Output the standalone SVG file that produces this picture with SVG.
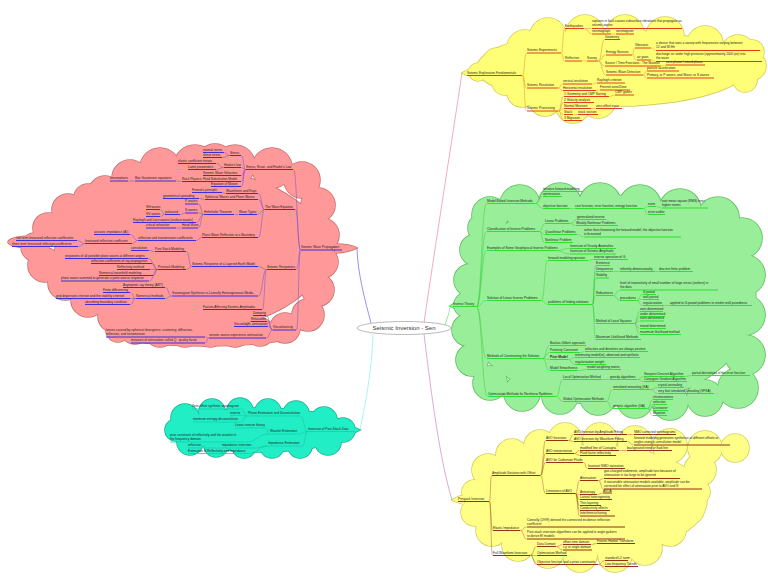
<svg xmlns="http://www.w3.org/2000/svg" xmlns:xlink="http://www.w3.org/1999/xlink" width="768" height="586" viewBox="0 0 768 586">
<style>
.t{font-family:"Liberation Sans",Arial,sans-serif;font-size:3.2px;fill:#222}
.b{font-weight:bold}
.ly{stroke:#e3260e;stroke-width:0.9}
.lg{stroke:#22dd22;stroke-width:0.9}
.lb{stroke:#8b1a00;stroke-width:0.9}
.lp{stroke:#2a1ee8;stroke-width:0.9}
.lc{stroke:#12cfae;stroke-width:0.8}
.cy,.cg,.cb,.cp,.cc,.m{fill:none;stroke-width:0.5}
.cy{stroke:#d98a3a}.cg{stroke:#3ccc3c}.cb{stroke:#a5602a}.cp{stroke:#6a4ed0}.cc{stroke:#19b89a}
.m{stroke-width:0.7}
.ctr{font-family:"Liberation Sans",Arial,sans-serif;font-size:6px;fill:#333}
</style>
<defs>
<g id="sy">
<ellipse cx="612" cy="68" rx="135" ry="38"/>
<circle cx="478" cy="72" r="9"/><circle cx="497" cy="62" r="14"/><circle cx="505" cy="82" r="13"/><circle cx="525" cy="48" r="18"/><circle cx="548" cy="36" r="18"/><circle cx="585" cy="34" r="19"/><circle cx="625" cy="34" r="19"/><circle cx="665" cy="36" r="19"/><circle cx="705" cy="44" r="18"/><circle cx="738" cy="52" r="17"/><circle cx="752" cy="52" r="12"/><circle cx="752" cy="66" r="14"/><circle cx="745" cy="80" r="12"/><circle cx="710" cy="78" r="14"/><circle cx="670" cy="84" r="15"/><circle cx="632" cy="90" r="16"/><circle cx="598" cy="100" r="18"/><circle cx="573" cy="106" r="17"/><circle cx="545" cy="100" r="16"/><circle cx="522" cy="92" r="15"/>
<path d="M462 73Q468 69 474 68L476 77Q468 76 462 73Z"/>
</g>
<g id="sg">
<ellipse cx="608" cy="300" rx="148" ry="105"/>
<circle cx="490" cy="215" r="18"/><circle cx="520" cy="205" r="20"/><circle cx="560" cy="204" r="21"/><circle cx="600" cy="204" r="21"/><circle cx="640" cy="206" r="21"/><circle cx="680" cy="210" r="21"/><circle cx="718" cy="218" r="21"/><circle cx="742" cy="238" r="20"/><circle cx="745" cy="275" r="20"/><circle cx="745" cy="315" r="20"/><circle cx="745" cy="355" r="20"/><circle cx="738" cy="388" r="20"/><circle cx="705" cy="398" r="18"/><circle cx="670" cy="402" r="18"/><circle cx="635" cy="400" r="18"/><circle cx="598" cy="397" r="18"/><circle cx="560" cy="396" r="18"/><circle cx="522" cy="393" r="18"/><circle cx="490" cy="383" r="17"/><circle cx="472" cy="360" r="16"/><circle cx="468" cy="330" r="16"/><circle cx="466" cy="305" r="12"/><circle cx="470" cy="280" r="16"/><circle cx="476" cy="250" r="16"/><circle cx="482" cy="228" r="14"/>
<path d="M450 306Q455 302 460 301L460 309Q455 309 450 306Z"/>
</g>
<g id="sb">
<ellipse cx="592" cy="500" rx="115" ry="55"/>
<circle cx="540" cy="446" r="16"/><circle cx="565" cy="440" r="17"/><circle cx="600" cy="440" r="17"/><circle cx="635" cy="443" r="17"/><circle cx="670" cy="446" r="17"/><circle cx="705" cy="448" r="17"/><circle cx="735" cy="448" r="14"/><circle cx="700" cy="470" r="16"/><circle cx="698" cy="492" r="12"/><circle cx="690" cy="510" r="14"/><circle cx="670" cy="530" r="16"/><circle cx="645" cy="548" r="17"/><circle cx="615" cy="555" r="17"/><circle cx="580" cy="555" r="17"/><circle cx="548" cy="552" r="16"/><circle cx="518" cy="545" r="16"/><circle cx="492" cy="530" r="16"/><circle cx="475" cy="512" r="14"/><circle cx="474" cy="492" r="12"/><circle cx="488" cy="470" r="16"/><circle cx="512" cy="455" r="16"/>
<path d="M452 500Q458 496 464 495L464 504Q458 503 452 500Z"/>
</g>
<g id="sp">
<ellipse cx="190" cy="250" rx="135" ry="80"/>
<circle cx="105" cy="192" r="16"/><circle cx="130" cy="178" r="18"/><circle cx="160" cy="168" r="20"/><circle cx="195" cy="166" r="21"/><circle cx="215" cy="163" r="19"/><circle cx="235" cy="165" r="20"/><circle cx="272" cy="168" r="20"/><circle cx="302" cy="180" r="18"/><circle cx="318" cy="205" r="17"/><circle cx="322" cy="235" r="17"/><circle cx="322" cy="262" r="16"/><circle cx="318" cy="290" r="16"/><circle cx="308" cy="315" r="16"/><circle cx="285" cy="328" r="15"/><circle cx="260" cy="332" r="14"/><circle cx="235" cy="333" r="14"/><circle cx="210" cy="333" r="14"/><circle cx="185" cy="333" r="14"/><circle cx="160" cy="333" r="14"/><circle cx="135" cy="330" r="14"/><circle cx="118" cy="330" r="12"/><circle cx="115" cy="316" r="17"/><circle cx="88" cy="300" r="17"/><circle cx="65" cy="283" r="17"/><circle cx="45" cy="265" r="17"/><circle cx="35" cy="247" r="14"/><circle cx="48" cy="228" r="15"/><circle cx="68" cy="210" r="16"/><circle cx="88" cy="198" r="14"/>
<ellipse cx="205" cy="336" rx="85" ry="10"/>
<ellipse cx="32" cy="242" rx="24" ry="6"/>
<path d="M357 248Q350 244 335 244L335 253Q350 252 357 248Z"/>
</g>
<g id="sc">
<ellipse cx="262" cy="430" rx="88" ry="22"/>
<circle cx="185" cy="418" r="14"/><circle cx="212" cy="412" r="13"/><circle cx="240" cy="411" r="13"/><circle cx="268" cy="412" r="13"/><circle cx="296" cy="414" r="13"/><circle cx="324" cy="420" r="13"/><circle cx="343" cy="430" r="12"/><circle cx="328" cy="442" r="13"/><circle cx="300" cy="446" r="12"/><circle cx="272" cy="446" r="12"/><circle cx="244" cy="446" r="12"/><circle cx="216" cy="445" r="12"/><circle cx="190" cy="442" r="13"/><circle cx="176" cy="430" r="11"/>
<path d="M360 430Q352 426 346 426L346 435Q352 434 360 430Z"/>
</g>
</defs>
<rect width="768" height="586" fill="#fff"/>
<g id="clouds">
<use xlink:href="#sy" href="#sy" fill="#d2cf5a" stroke="#d2cf5a" stroke-width="1.6"/>
<use xlink:href="#sy" href="#sy" fill="#ffff77"/>
<use xlink:href="#sg" href="#sg" fill="#5fbf5f" stroke="#5fbf5f" stroke-width="1.6"/>
<use xlink:href="#sg" href="#sg" fill="#99ee99"/>
<use xlink:href="#sb" href="#sb" fill="#d2cf5a" stroke="#d2cf5a" stroke-width="1.6"/>
<use xlink:href="#sb" href="#sb" fill="#ffff88"/>
<use xlink:href="#sp" href="#sp" fill="#c87070" stroke="#c87070" stroke-width="1.6"/>
<use xlink:href="#sp" href="#sp" fill="#ff9999"/>
<use xlink:href="#sc" href="#sc" fill="#17b090" stroke="#17b090" stroke-width="1.6"/>
<use xlink:href="#sc" href="#sc" fill="#22eec6"/>
</g>
<g id="connectors">
<path class="m" stroke="#ee8899" d="M424 323C436 240 452 140 462 73"/>
<path class="m" stroke="#6666e0" d="M371 323C365 300 358 275 357 249"/>
<path class="m" stroke="#77dd77" d="M445 325C448 316 450 310 450 306"/>
<path class="m" stroke="#88eeee" d="M373 334C372 370 366 400 360 430"/>
<path class="m" stroke="#cc88bb" d="M424 334C432 400 440 460 452 500"/>
<g class="cy">
<path d="M522.5 75.5C524.5 75.5 524.5 53 526.5 53"/><path d="M522.5 75.5C524.5 75.5 524.5 88 526.5 88"/><path d="M522.5 75.5C524.5 75.5 524.5 111 526.5 111"/>
<path d="M561.5 53C563 53 563 28.5 564.5 28.5"/><path d="M561.5 53C563 53 563 61 564.5 61"/>
<path d="M584.5 28.5H591.5"/><path d="M584.5 28.5C588 28.5 588 34 591.5 34"/><path d="M611.5 34H615.5"/>
<path d="M582.5 61H586.5"/>
<path d="M598.5 61C601.5 61 601.5 39.5 604.5 39.5"/><path d="M598.5 61C602 61 602 55 605.5 55"/><path d="M598.5 61C601.5 61 601.5 66 604.5 66"/><path d="M598.5 61C602 61 602 75 605.5 75"/>
<path d="M632.5 55C633.5 55 633.5 48 634.5 48"/><path d="M632.5 55C634.5 55 634.5 60 636.5 60"/>
<path d="M651.5 48C653.5 48 653.5 50.5 655.5 50.5"/><path d="M651.5 60C653.5 60 653.5 61.5 655.5 61.5"/>
<path d="M661.5 66C663.5 66 663.5 65 665.5 65"/>
<path d="M643.5 75C645 75 645 71 646.5 71"/><path d="M643.5 75C645 75 645 78 646.5 78"/>
<path d="M558.5 88C560.5 88 560.5 84 562.5 84"/><path d="M558.5 88C560.5 88 560.5 90.5 562.5 90.5"/>
<path d="M592.5 84C594.5 84 594.5 83 596.5 83"/><path d="M596.5 90.5C598 90.5 598 90 599.5 90"/>
<path d="M558.5 111C561 111 561 96.5 563.5 96.5"/><path d="M558.5 111C561 111 561 102.5 563.5 102.5"/><path d="M558.5 111C561 111 561 108.5 563.5 108.5"/><path d="M558.5 111C561 111 561 114.5 563.5 114.5"/><path d="M558.5 111C561 111 561 120.5 563.5 120.5"/>
<path d="M609.5 96.5C612 96.5 612 95 614.5 95"/><path d="M591.5 108.5H595.5"/><path d="M573.5 114.5H577.5"/>
</g>
<g class="cg">
<path d="M476.5 306.5C481.5 306.5 481.5 203.5 486.5 203.5"/><path d="M476.5 306.5C481.5 306.5 481.5 231.5 486.5 231.5"/><path d="M476.5 306.5C481.5 306.5 481.5 250.5 486.5 250.5"/><path d="M476.5 306.5C481.5 306.5 481.5 300.5 486.5 300.5"/><path d="M476.5 306.5C481.5 306.5 481.5 358.5 486.5 358.5"/><path d="M476.5 306.5C482 306.5 482 396.5 487.5 396.5"/>
<path d="M535.5 203.5C539 203.5 539 191.5 542.5 191.5"/><path d="M535.5 203.5C539 203.5 539 196.5 542.5 196.5"/><path d="M535.5 203.5C539 203.5 539 208.5 542.5 208.5"/>
<path d="M570.5 208.5H574.5"/><path d="M643.5 208.5C645.5 208.5 645.5 206.5 647.5 206.5"/><path d="M643.5 208.5C645.5 208.5 645.5 214.5 647.5 214.5"/><path d="M656.5 206.5C659 206.5 659 208 661.5 208"/>
<path d="M539.5 231.5C542 231.5 542 223.5 544.5 223.5"/><path d="M539.5 231.5C542 231.5 542 234.5 544.5 234.5"/><path d="M539.5 231.5C542 231.5 542 242.5 544.5 242.5"/>
<path d="M570.5 223.5C573.5 223.5 573.5 219.5 576.5 219.5"/><path d="M570.5 223.5C573 223.5 573 225.5 575.5 225.5"/><path d="M577.5 234.5C580.5 234.5 580.5 237 583.5 237"/>
<path d="M556.5 250.5C563 250.5 563 248.5 569.5 248.5"/><path d="M556.5 250.5C563 250.5 563 254 569.5 254"/>
<path d="M541.5 300.5C544.5 300.5 544.5 260.5 547.5 260.5"/><path d="M541.5 300.5C544.5 300.5 544.5 304.5 547.5 304.5"/>
<path d="M588.5 260.5C591 260.5 591 259.5 593.5 259.5"/>
<path d="M592.5 304.5C594 304.5 594 265.5 595.5 265.5"/><path d="M592.5 304.5C594 304.5 594 271.5 595.5 271.5"/><path d="M592.5 304.5C594 304.5 594 278 595.5 278"/><path d="M592.5 304.5C594 304.5 594 295.5 595.5 295.5"/><path d="M592.5 304.5C594 304.5 594 323.5 595.5 323.5"/><path d="M592.5 304.5C594 304.5 594 339.5 595.5 339.5"/>
<path d="M613.5 271.5H619.5"/><path d="M655.5 271.5H658.5"/>
<path d="M613.5 295.5C616.5 295.5 616.5 290 619.5 290"/><path d="M613.5 295.5C616.5 295.5 616.5 300.5 619.5 300.5"/>
<path d="M636.5 300.5C639.5 300.5 639.5 294.5 642.5 294.5"/><path d="M636.5 300.5C639.5 300.5 639.5 299.5 642.5 299.5"/><path d="M636.5 300.5C639.5 300.5 639.5 305.5 642.5 305.5"/><path d="M664.5 305.5H669.5"/>
<path d="M634.5 323.5C637 323.5 637 311.5 639.5 311.5"/><path d="M634.5 323.5C637 323.5 637 316.5 639.5 316.5"/><path d="M634.5 323.5C637 323.5 637 321 639.5 321"/><path d="M634.5 323.5C637 323.5 637 328.5 639.5 328.5"/><path d="M634.5 323.5C637 323.5 637 334.5 639.5 334.5"/>
<path d="M542.5 358.5C546 358.5 546 345.5 549.5 345.5"/><path d="M542.5 358.5C546 358.5 546 352.5 549.5 352.5"/><path d="M542.5 358.5C546 358.5 546 359.5 549.5 359.5"/><path d="M542.5 358.5C546 358.5 546 370.5 549.5 370.5"/>
<path d="M580.5 352.5C582.5 352.5 582.5 351.5 584.5 351.5"/><path d="M568.5 359.5C571.5 359.5 571.5 357.5 574.5 357.5"/><path d="M568.5 359.5C571.5 359.5 571.5 364.5 574.5 364.5"/><path d="M578.5 370.5C582.5 370.5 582.5 369.5 586.5 369.5"/>
<path d="M556.5 396.5C559.5 396.5 559.5 379.5 562.5 379.5"/><path d="M556.5 396.5C559.5 396.5 559.5 401.5 562.5 401.5"/>
<path d="M602.5 379.5H609.5"/><path d="M637.5 379.5C640.5 379.5 640.5 376.5 643.5 376.5"/><path d="M637.5 379.5C640.5 379.5 640.5 381.5 643.5 381.5"/><path d="M685.5 376.5C688.5 376.5 688.5 375.5 691.5 375.5"/>
<path d="M606.5 401.5C609.5 401.5 609.5 389.5 612.5 389.5"/><path d="M606.5 401.5C609.5 401.5 609.5 408.5 612.5 408.5"/>
<path d="M650.5 389.5C654 389.5 654 387.5 657.5 387.5"/><path d="M650.5 389.5C654 389.5 654 393.5 657.5 393.5"/>
<path d="M647.5 408.5C650 408.5 650 399.5 652.5 399.5"/><path d="M647.5 408.5C650 408.5 650 404.5 652.5 404.5"/><path d="M647.5 408.5C650 408.5 650 410.5 652.5 410.5"/><path d="M647.5 408.5C650 408.5 650 415.5 652.5 415.5"/>
</g>
<g class="cb">
<path d="M489.5 501.5C490.5 501.5 490.5 475.5 491.5 475.5"/><path d="M489.5 501.5C491 501.5 491 530.5 492.5 530.5"/><path d="M489.5 501.5C491 501.5 491 555.5 492.5 555.5"/>
<path d="M540.5 475.5C543 475.5 543 440.5 545.5 440.5"/><path d="M540.5 475.5C543 475.5 543 453.5 545.5 453.5"/><path d="M540.5 475.5C543 475.5 543 462.5 545.5 462.5"/><path d="M540.5 475.5C543 475.5 543 493.5 545.5 493.5"/>
<path d="M568.5 440.5C571 440.5 571 434.5 573.5 434.5"/><path d="M568.5 440.5C571 440.5 571 441.5 573.5 441.5"/>
<path d="M627.5 434.5H633.5"/><path d="M627.5 441.5C630.5 441.5 630.5 445 633.5 445"/>
<path d="M574.5 453.5C577 453.5 577 450.5 579.5 450.5"/><path d="M574.5 453.5C577 453.5 577 455.5 579.5 455.5"/><path d="M619.5 450.5H626.5"/>
<path d="M583.5 462.5C585.5 462.5 585.5 468.5 587.5 468.5"/>
<path d="M575.5 493.5C577.5 493.5 577.5 480.5 579.5 480.5"/><path d="M575.5 493.5C577.5 493.5 577.5 494.5 579.5 494.5"/><path d="M575.5 493.5C577.5 493.5 577.5 499.5 579.5 499.5"/><path d="M575.5 493.5C577.5 493.5 577.5 505.5 579.5 505.5"/><path d="M575.5 493.5C577.5 493.5 577.5 510.5 579.5 510.5"/><path d="M575.5 493.5C577.5 493.5 577.5 516 579.5 516"/>
<path d="M598.5 480.5C601 480.5 601 478.5 603.5 478.5"/><path d="M598.5 480.5C601 480.5 601 489 603.5 489"/><path d="M597.5 494.5C600 494.5 600 493 602.5 493"/>
<path d="M520.5 530.5C523.5 530.5 523.5 527 526.5 527"/><path d="M520.5 530.5C523.5 530.5 523.5 539 526.5 539"/>
<path d="M530.5 555.5C533.5 555.5 533.5 546.5 536.5 546.5"/><path d="M530.5 555.5C533.5 555.5 533.5 555.5 536.5 555.5"/><path d="M530.5 555.5C533.5 555.5 533.5 564.5 536.5 564.5"/>
<path d="M556.5 546.5C559.5 546.5 559.5 544.5 562.5 544.5"/><path d="M556.5 546.5C559.5 546.5 559.5 550 562.5 550"/><path d="M591.5 544.5C594 544.5 594 543.5 596.5 543.5"/>
<path d="M598.5 564.5C601.5 564.5 601.5 560.5 604.5 560.5"/><path d="M598.5 564.5C601.5 564.5 601.5 566.5 604.5 566.5"/>
</g>
<g class="cp">
<path d="M300.5 250C297 250 297 169.5 293.5 169.5"/><path d="M300.5 250C298 250 298 209.5 295.5 209.5"/><path d="M300.5 250C298.5 250 298.5 269.5 296.5 269.5"/><path d="M300.5 250C298.5 250 298.5 330 296.5 330"/>
<path d="M245.5 169.5C243.5 169.5 243.5 155.5 241.5 155.5"/><path d="M245.5 169.5C243.5 169.5 243.5 167.5 241.5 167.5"/><path d="M245.5 169.5C243.5 169.5 243.5 175.5 241.5 175.5"/><path d="M245.5 169.5C243.5 169.5 243.5 181.5 241.5 181.5"/><path d="M245.5 169.5C243.5 169.5 243.5 186.5 241.5 186.5"/>
<path d="M229.5 155.5C227 155.5 227 152.5 224.5 152.5"/><path d="M229.5 155.5C226 155.5 226 157.5 222.5 157.5"/>
<path d="M223.5 167.5C220 167.5 220 163.5 216.5 163.5"/><path d="M223.5 167.5C220 167.5 220 169.5 216.5 169.5"/>
<path d="M181.5 181.5C179 181.5 179 181 176.5 181"/><path d="M134.5 181H128.5"/>
<path d="M264.5 209.5C261.5 209.5 261.5 193.5 258.5 193.5"/><path d="M264.5 209.5C261.5 209.5 261.5 199.5 258.5 199.5"/><path d="M264.5 209.5C261 209.5 261 214.5 257.5 214.5"/><path d="M264.5 209.5C261.5 209.5 261.5 237.5 258.5 237.5"/>
<path d="M225.5 193.5C224 193.5 224 192.5 222.5 192.5"/><path d="M204.5 199.5C202 199.5 202 198.5 199.5 198.5"/><path d="M238.5 214.5H234.5"/>
<path d="M203.5 214.5C201 214.5 201 204 198.5 204"/><path d="M203.5 214.5C201 214.5 201 213 198.5 213"/><path d="M203.5 214.5C200 214.5 200 222.5 196.5 222.5"/><path d="M203.5 214.5C201 214.5 201 228 198.5 228"/>
<path d="M184.5 213C182.5 213 182.5 214.5 180.5 214.5"/><path d="M164.5 214.5C162.5 214.5 162.5 209.5 160.5 209.5"/><path d="M164.5 214.5C162.5 214.5 162.5 216.5 160.5 216.5"/><path d="M181.5 228H176.5"/>
<path d="M201.5 237.5C199 237.5 199 240.5 196.5 240.5"/>
<path d="M137.5 240.5C134 240.5 134 234.5 130.5 234.5"/><path d="M137.5 240.5C135 240.5 135 243.5 132.5 243.5"/>
<path d="M84.5 243.5C81 243.5 81 240.5 77.5 240.5"/><path d="M84.5 243.5C81.5 243.5 81.5 246.5 78.5 246.5"/>
<path d="M266.5 269.5C262.5 269.5 262.5 266.5 258.5 266.5"/><path d="M266.5 269.5C262.5 269.5 262.5 296 258.5 296"/><path d="M266.5 269.5C264.5 269.5 264.5 309.5 262.5 309.5"/>
<path d="M191.5 266.5C189 266.5 189 251.5 186.5 251.5"/><path d="M191.5 266.5C189 266.5 189 269.5 186.5 269.5"/>
<path d="M154.5 251.5C152 251.5 152 250.5 149.5 250.5"/>
<path d="M157.5 269.5C153 269.5 153 258.5 148.5 258.5"/><path d="M157.5 269.5C155 269.5 155 263.5 152.5 263.5"/><path d="M157.5 269.5H150.5"/><path d="M157.5 269.5C155.5 269.5 155.5 275.5 153.5 275.5"/><path d="M157.5 269.5C153.5 269.5 153.5 281 149.5 281"/>
<path d="M171.5 296C168.5 296 168.5 287.5 165.5 287.5"/><path d="M171.5 296C168.5 296 168.5 298.5 165.5 298.5"/>
<path d="M135.5 298.5C133 298.5 133 292.5 130.5 292.5"/><path d="M135.5 298.5H130.5"/><path d="M135.5 298.5C133 298.5 133 304.5 130.5 304.5"/>
<path d="M272.5 330C269.5 330 269.5 315.5 266.5 315.5"/><path d="M272.5 330C270 330 270 321.5 267.5 321.5"/><path d="M272.5 330C270.5 330 270.5 326.5 268.5 326.5"/><path d="M272.5 330C269.5 330 269.5 338 266.5 338"/>
<path d="M208.5 338C207 338 207 337 205.5 337"/><path d="M208.5 338C207 338 207 343 205.5 343"/>
</g>
<g class="cc">
<path d="M307.5 431.5C304 431.5 304 416 300.5 416"/><path d="M307.5 431.5C303 431.5 303 434 299.5 434"/><path d="M307.5 431.5C305 431.5 305 446 302.5 446"/>
<path d="M247.5 416C244 416 244 409 241.5 409"/><path d="M247.5 416C244.5 416 244.5 415.5 242.5 415.5"/><path d="M247.5 416C244 416 244 422 240.5 422"/>
<path d="M269.5 434C267.5 434 267.5 428 265.5 428"/><path d="M269.5 434C257.5 434 257.5 442 245.5 442"/>
<path d="M267.5 446C261.5 446 261.5 448 255.5 448"/><path d="M267.5 446C258 446 258 453.5 248.5 453.5"/><path d="M221.5 448H203.5"/>
</g>
</g>
<g id="nodes-top">
<g id="n-sef"><line class="ly" x1="467" y1="75.5" x2="522" y2="75.5"/><text class="t" x="467" y="73.5">Seismic Exploration Fundamentals</text></g>
<g id="n-exp"><line class="ly" x1="527" y1="53" x2="561" y2="53"/><text class="t" x="527" y="51">Seismic Experiments</text></g>
<g id="n-res"><line class="ly" x1="527" y1="88" x2="558" y2="88"/><text class="t" x="527" y="86">Seismic Resolution</text></g>
<g id="n-proc"><line class="ly" x1="527" y1="111" x2="558" y2="111"/><text class="t" x="527" y="109">Seismic Processing</text></g>
<g id="n-eq"><line class="ly" x1="565" y1="28.5" x2="584" y2="28.5"/><text class="t" x="565" y="26.5">Earthquakes</text></g>
<g id="n-refl"><line class="ly" x1="565" y1="61" x2="582" y2="61"/><text class="t" x="565" y="59">Reflection</text></g>
<g id="n-rupt"><line class="ly" x1="592" y1="28.5" x2="682" y2="28.5"/><text class="t" x="592" y="22.2"><tspan>ruptures in fault causes subsurface vibrations that propagate as</tspan><tspan x="592" dy="4.2">seismic waves</tspan></text></g>
<g id="n-sgraph"><line class="ly" x1="592" y1="34" x2="611" y2="34"/><text class="t" x="592" y="32">seismograph</text></g>
<g id="n-sgram"><line class="ly" x1="616" y1="34" x2="634" y2="34"/><text class="t" x="616" y="32">seismogram</text></g>
<g id="n-survey"><line class="ly" x1="587" y1="61" x2="598" y2="61"/><text class="t" x="587" y="59">Survey</text></g>
<g id="n-geom"><line class="ly" x1="605" y1="39.5" x2="620" y2="39.5"/><text class="t" x="605" y="37.5">Geometry</text></g>
<g id="n-energy"><line class="ly" x1="606" y1="55" x2="632" y2="55"/><text class="t" x="606" y="53">Energy Sources</text></g>
<g id="n-stf"><line class="ly" x1="605" y1="66" x2="661" y2="66"/><text class="t" x="605" y="64">Source / Time Functions : The Wavelet</text></g>
<g id="n-swd"><line class="ly" x1="606" y1="75" x2="643" y2="75"/><text class="t" x="606" y="73">Seismic Wave Detection</text></g>
<g id="n-vib"><line class="ly" x1="635" y1="48" x2="651" y2="48"/><text class="t" x="635" y="46">Vibroseis</text></g>
<g id="n-air"><line class="ly" x1="637" y1="60" x2="651" y2="60"/><text class="t" x="637" y="58">air guns</text></g>
<g id="n-vibd"><line class="ly" x1="656" y1="50.5" x2="760" y2="50.5"/><text class="t" x="656" y="44"><tspan>a device that uses a sweep with frequencies varying between</tspan><tspan x="656" dy="4.2">12 and 80 Hz</tspan></text></g>
<g id="n-aird"><line class="ly" x1="656" y1="61.5" x2="762" y2="61.5"/><text class="t" x="656" y="55"><tspan>discharge air under high pressure (approximately 2000 psi) into</tspan><tspan x="656" dy="4.2">the water</tspan></text></g>
<g id="n-zp"><line class="ly" x1="666" y1="65" x2="705" y2="65"/><text class="t" x="666" y="63">zero phase / mixed phase</text></g>
<g id="n-pa"><line class="ly" x1="647" y1="71" x2="679" y2="71"/><text class="t" x="647" y="69">particle acceleration</text></g>
<g id="n-ps"><line class="ly" x1="647" y1="78" x2="714" y2="78"/><text class="t" x="647" y="76">Primary, or P waves, and Shear, or S waves</text></g>
<g id="n-vr"><line class="ly" x1="563" y1="84" x2="592" y2="84"/><text class="t" x="563" y="82">vertical resolution</text></g>
<g id="n-hr"><line class="ly" x1="563" y1="90.5" x2="596" y2="90.5"/><text class="t" x="563" y="88.5">Horizontal resolution</text></g>
<g id="n-rc"><line class="ly" x1="597" y1="83" x2="625" y2="83"/><text class="t" x="597" y="81">Rayleigh criterion</text></g>
<g id="n-fz"><line class="ly" x1="600" y1="90" x2="630" y2="90"/><text class="t" x="600" y="88">Fresnel zone/Zone</text></g>
<g id="n-p1"><line class="ly" x1="564" y1="96.5" x2="609" y2="96.5"/><text class="t" x="564" y="94.5">1 Geometry and CMP Sorting</text></g>
<g id="n-cmp"><line class="ly" x1="615" y1="95" x2="634" y2="95"/><text class="t" x="615" y="93">CMP gather</text></g>
<g id="n-p2"><line class="ly" x1="564" y1="102.5" x2="594" y2="102.5"/><text class="t" x="564" y="100.5">2 Velocity analysis</text></g>
<g id="n-nmo"><line class="ly" x1="564" y1="108.5" x2="591" y2="108.5"/><text class="t" x="564" y="106.5">Normal Moveout</text></g>
<g id="n-zot"><line class="ly" x1="596" y1="108.5" x2="622" y2="108.5"/><text class="t" x="596" y="106.5">zero offset trace</text></g>
<g id="n-stack"><line class="ly" x1="564" y1="114.5" x2="573" y2="114.5"/><text class="t" x="564" y="112.5">Stack</text></g>
<g id="n-ss"><line class="ly" x1="578" y1="114.5" x2="598" y2="114.5"/><text class="t" x="578" y="112.5">stack section</text></g>
<g id="n-mig"><line class="ly" x1="564" y1="120.5" x2="582" y2="120.5"/><text class="t" x="564" y="118.5">3 Migration</text></g>
</g>
<g id="nodes-green">
<g id="n-it"><line class="lg" x1="453" y1="306.5" x2="476" y2="306.5"/><text class="t" x="453" y="304.5">Inverse Theory</text></g>
<g id="n-g1"><line class="lg" x1="487" y1="203.5" x2="535" y2="203.5"/><text class="t" x="487" y="201.5">Model Based Inversion Methods</text></g>
<g id="n-g2"><line class="lg" x1="487" y1="231.5" x2="539" y2="231.5"/><text class="t" x="487" y="229.5">Classification of Inverse Problems</text></g>
<g id="n-g3"><line class="lg" x1="487" y1="250.5" x2="556" y2="250.5"/><text class="t" x="487" y="248.5">Examples of Some Geophysical Inverse Problems</text></g>
<g id="n-g4"><line class="lg" x1="487" y1="300.5" x2="541" y2="300.5"/><text class="t" x="487" y="298.5">Solution of Linear Inverse Problems</text></g>
<g id="n-g5"><line class="lg" x1="487" y1="358.5" x2="542" y2="358.5"/><text class="t" x="487" y="356.5">Methods of Constraining the Solution</text></g>
<g id="n-g6"><line class="lg" x1="488" y1="396.5" x2="556" y2="396.5"/><text class="t" x="488" y="394.5">Optimization Methods for Nonlinear Problems</text></g>
<g id="n-g1a"><line class="lg" x1="543" y1="191.5" x2="583" y2="191.5"/><text class="t" x="543" y="189.5">iterative forward modeling</text></g>
<g id="n-g1b"><line class="lg" x1="543" y1="196.5" x2="562" y2="196.5"/><text class="t" x="543" y="194.5">optimization</text></g>
<g id="n-g1c"><line class="lg" x1="543" y1="208.5" x2="570" y2="208.5"/><text class="t" x="543" y="206.5">objective function</text></g>
<g id="n-g1c1"><line class="lg" x1="575" y1="208.5" x2="643" y2="208.5"/><text class="t" x="575" y="206.5">cost function, error function, energy function</text></g>
<g id="n-norm"><line class="lg" x1="648" y1="206.5" x2="656" y2="206.5"/><text class="t" x="648" y="204.5">norm</text></g>
<g id="n-err"><line class="lg" x1="648" y1="214.5" x2="665" y2="214.5"/><text class="t" x="648" y="212.5">error and/or</text></g>
<g id="n-rms"><line class="lg" x1="662" y1="208" x2="708" y2="208"/><text class="t" x="662" y="201.8"><tspan>root mean square (RMS) error</tspan><tspan x="662" dy="4.2">higher norms</tspan></text></g>
<g id="n-lp"><line class="lg" x1="545" y1="223.5" x2="570" y2="223.5"/><text class="t" x="545" y="221.5">Linear Problems</text></g>
<g id="n-qp"><line class="lg" x1="545" y1="234.5" x2="577" y2="234.5"/><text class="t" x="545" y="232.5">Quasilinear Problems</text></g>
<g id="n-np"><line class="lg" x1="545" y1="242.5" x2="573" y2="242.5"/><text class="t" x="545" y="240.5">Nonlinear Problem</text></g>
<g id="n-gi"><line class="lg" x1="577" y1="219.5" x2="606" y2="219.5"/><text class="t" x="577" y="217.5">generalized inverse</text></g>
<g id="n-wnp"><line class="lg" x1="576" y1="225.5" x2="618" y2="225.5"/><text class="t" x="576" y="223.5">Weakly Nonlinear Problems</text></g>
<g id="n-rtl"><line class="lg" x1="584" y1="237" x2="681" y2="237"/><text class="t" x="584" y="230.5"><tspan>rather than linearizing the forward model, the objective function</tspan><tspan x="584" dy="4.2">is linearized</tspan></text></g>
<g id="n-iga"><line class="lg" x1="570" y1="248.5" x2="616" y2="248.5"/><text class="t" x="570" y="246.5">Inversion of Gravity Anomalies</text></g>
<g id="n-isa"><line class="lg" x1="570" y1="254" x2="616" y2="254"/><text class="t" x="570" y="252">Inversion of Seismic Amplitude</text></g>
<g id="n-fmo"><line class="lg" x1="548" y1="260.5" x2="588" y2="260.5"/><text class="t" x="548" y="258.5">forward modeling operator</text></g>
<g id="n-pfs"><line class="lg" x1="548" y1="304.5" x2="592" y2="304.5"/><text class="t" x="548" y="302.5">problems of finding solutions</text></g>
<g id="n-iog"><line class="lg" x1="594" y1="259.5" x2="628" y2="259.5"/><text class="t" x="594" y="257.5">inverse operation of G</text></g>
<g id="n-exi"><line class="lg" x1="596" y1="265.5" x2="610" y2="265.5"/><text class="t" x="596" y="263.5">Existence</text></g>
<g id="n-uni"><line class="lg" x1="596" y1="271.5" x2="613" y2="271.5"/><text class="t" x="596" y="269.5">Uniqueness</text></g>
<g id="n-sta"><line class="lg" x1="596" y1="278" x2="609" y2="278"/><text class="t" x="596" y="276">Stability</text></g>
<g id="n-rob"><line class="lg" x1="596" y1="295.5" x2="613" y2="295.5"/><text class="t" x="596" y="293.5">Robustness</text></g>
<g id="n-mls"><line class="lg" x1="596" y1="323.5" x2="634" y2="323.5"/><text class="t" x="596" y="321.5">Method of Least Squares</text></g>
<g id="n-mlm"><line class="lg" x1="596" y1="339.5" x2="641" y2="339.5"/><text class="t" x="596" y="337.5">Maximum Likelihood Methods</text></g>
<g id="n-idim"><line class="lg" x1="620" y1="271.5" x2="655" y2="271.5"/><text class="t" x="620" y="269.5">infinitely dimensionality</text></g>
<g id="n-dfp"><line class="lg" x1="659" y1="271.5" x2="693" y2="271.5"/><text class="t" x="659" y="269.5">discrete finite problem</text></g>
<g id="n-lvl"><line class="lg" x1="620" y1="290" x2="718" y2="290"/><text class="t" x="620" y="283.5"><tspan>level of insensitivity of small number of large errors (outliers) in</tspan><tspan x="620" dy="4.2">the data</tspan></text></g>
<g id="n-proc2"><line class="lg" x1="620" y1="300.5" x2="636" y2="300.5"/><text class="t" x="620" y="298.5">procedures</text></g>
<g id="n-illp"><line class="lg" x1="643" y1="294.5" x2="656" y2="294.5"/><text class="t" x="643" y="292.5">ill-posed</text></g>
<g id="n-wellp"><line class="lg" x1="643" y1="299.5" x2="659" y2="299.5"/><text class="t" x="643" y="297.5">well-posed</text></g>
<g id="n-reg"><line class="lg" x1="643" y1="305.5" x2="664" y2="305.5"/><text class="t" x="643" y="303.5">regularization</text></g>
<g id="n-app"><line class="lg" x1="670" y1="305.5" x2="752" y2="305.5"/><text class="t" x="670" y="303.5">applied to ill-posed problems to render well-posedness</text></g>
<g id="n-od"><line class="lg" x1="640" y1="311.5" x2="663" y2="311.5"/><text class="t" x="640" y="309.5">over-determined</text></g>
<g id="n-ud"><line class="lg" x1="640" y1="316.5" x2="665" y2="316.5"/><text class="t" x="640" y="314.5">under-determined</text></g>
<g id="n-ed"><line class="lg" x1="640" y1="321" x2="664" y2="321"/><text class="t" x="640" y="319">even-determined</text></g>
<g id="n-md"><line class="lg" x1="640" y1="328.5" x2="666" y2="328.5"/><text class="t" x="640" y="326.5">mixed determined</text></g>
<g id="n-mlm2"><line class="lg" x1="640" y1="334.5" x2="681" y2="334.5"/><text class="t" x="640" y="332.5">maximum likelihood method</text></g>
<g id="n-bg"><line class="lg" x1="550" y1="345.5" x2="586" y2="345.5"/><text class="t" x="550" y="343.5">Backus-Gilbert approach</text></g>
<g id="n-pc"><line class="lg" x1="550" y1="352.5" x2="580" y2="352.5"/><text class="t" x="550" y="350.5">Positivity Constraint</text></g>
<g id="n-pm"><line class="lg" x1="550" y1="359.5" x2="568" y2="359.5"/><text class="t b" x="550" y="357.5">Prior Model</text></g>
<g id="n-ms"><line class="lg" x1="550" y1="370.5" x2="578" y2="370.5"/><text class="t" x="550" y="368.5">Model Smoothness</text></g>
<g id="n-vdp"><line class="lg" x1="585" y1="351.5" x2="648" y2="351.5"/><text class="t" x="585" y="349.5">velocities and densities are always positive</text></g>
<g id="n-mm"><line class="lg" x1="575" y1="357.5" x2="640" y2="357.5"/><text class="t" x="575" y="355.5">minimizing model(m), observed and synthetic</text></g>
<g id="n-rw"><line class="lg" x1="575" y1="364.5" x2="606" y2="364.5"/><text class="t" x="575" y="362.5">regularization weight</text></g>
<g id="n-mwm"><line class="lg" x1="587" y1="369.5" x2="621" y2="369.5"/><text class="t" x="587" y="367.5">model weighting matrix</text></g>
<g id="n-lom"><line class="lg" x1="563" y1="379.5" x2="602" y2="379.5"/><text class="t" x="563" y="377.5">Local Optimization Method</text></g>
<g id="n-gom"><line class="lg" x1="563" y1="401.5" x2="606" y2="401.5"/><text class="t" x="563" y="399.5">Global Optimization Methods</text></g>
<g id="n-greedy"><line class="lg" x1="610" y1="379.5" x2="637" y2="379.5"/><text class="t" x="610" y="377.5">greedy algorithms</text></g>
<g id="n-sda"><line class="lg" x1="644" y1="376.5" x2="685" y2="376.5"/><text class="t" x="644" y="374.5">Steepest Descent Algorithm</text></g>
<g id="n-cga"><line class="lg" x1="644" y1="381.5" x2="687" y2="381.5"/><text class="t" x="644" y="379.5">Conjugate Gradient Algorithm</text></g>
<g id="n-pde"><line class="lg" x1="692" y1="375.5" x2="750" y2="375.5"/><text class="t" x="692" y="373.5">partial derivatives of the error function</text></g>
<g id="n-sa"><line class="lg" x1="613" y1="389.5" x2="650" y2="389.5"/><text class="t" x="613" y="387.5">simulated annealing (SA)</text></g>
<g id="n-ga"><line class="lg" x1="613" y1="408.5" x2="647" y2="408.5"/><text class="t" x="613" y="406.5">genetic algorithm (GA)</text></g>
<g id="n-ca"><line class="lg" x1="658" y1="387.5" x2="684" y2="387.5"/><text class="t" x="658" y="385.5">crystal annealing</text></g>
<g id="n-vfsa"><line class="lg" x1="658" y1="393.5" x2="714" y2="393.5"/><text class="t" x="658" y="391.5">very fast simulated annealing (VFSA)</text></g>
<g id="n-chr"><line class="lg" x1="653" y1="399.5" x2="673" y2="399.5"/><text class="t" x="653" y="397.5">chromosomes</text></g>
<g id="n-sel"><line class="lg" x1="653" y1="404.5" x2="667" y2="404.5"/><text class="t" x="653" y="402.5">selection</text></g>
<g id="n-cro"><line class="lg" x1="653" y1="410.5" x2="668" y2="410.5"/><text class="t" x="653" y="408.5">Crossover</text></g>
<g id="n-mut"><line class="lg" x1="653" y1="415.5" x2="667" y2="415.5"/><text class="t" x="653" y="413.5">Mutation</text></g>
</g>
<g id="nodes-prestack">
<g id="n-psi"><line class="lb" x1="458" y1="501.5" x2="489" y2="501.5"/><text class="t" x="458" y="499.5">Prestack Inversion</text></g>
<g id="n-avo"><line class="lb" x1="492" y1="475.5" x2="540" y2="475.5"/><text class="t" x="492" y="473.5">Amplitude Variation with Offset</text></g>
<g id="n-ei"><line class="lb" x1="493" y1="530.5" x2="520" y2="530.5"/><text class="t" x="493" y="528.5">Elastic Impedance</text></g>
<g id="n-fwi"><line class="lb" x1="493" y1="555.5" x2="530" y2="555.5"/><text class="t" x="493" y="553.5">Full Waveform Inversion</text></g>
<g id="n-avoi"><line class="lb" x1="546" y1="440.5" x2="568" y2="440.5"/><text class="t" x="546" y="438.5">AVO Inversion</text></g>
<g id="n-avoint"><line class="lb" x1="546" y1="453.5" x2="574" y2="453.5"/><text class="t" x="546" y="451.5">AVO interpretation</text></g>
<g id="n-avocf"><line class="lb" x1="546" y1="462.5" x2="583" y2="462.5"/><text class="t" x="546" y="460.5">AVO for Carbonate Fluids</text></g>
<g id="n-lim"><line class="lb" x1="546" y1="493.5" x2="575" y2="493.5"/><text class="t" x="546" y="491.5">Limitations of AVO</text></g>
<g id="n-aaf"><line class="lb" x1="574" y1="434.5" x2="627" y2="434.5"/><text class="t" x="574" y="432.5">AVO Inversion by Amplitude Fitting</text></g>
<g id="n-awf"><line class="lb" x1="574" y1="441.5" x2="627" y2="441.5"/><text class="t" x="574" y="439.5">AVO Inversion by Waveform Fitting</text></g>
<g id="n-nmocs"><line class="lb" x1="634" y1="434.5" x2="676" y2="434.5"/><text class="t" x="634" y="432.5">NMO corrected seismograms</text></g>
<g id="n-fmg"><line class="lb" x1="634" y1="445" x2="730" y2="445"/><text class="t" x="634" y="438.5"><tspan>forward modeling generates synthetics at different offsets or</tspan><tspan x="634" dy="4.2">angles using a convolution model</tspan></text></g>
<g id="n-mlc"><line class="lb" x1="580" y1="450.5" x2="619" y2="450.5"/><text class="t" x="580" y="448.5">modified line of Castagna</text></g>
<g id="n-btf"><line class="lb" x1="627" y1="450.5" x2="672" y2="450.5"/><text class="t" x="627" y="448.5">background trend or fluid line</text></g>
<g id="n-ffr"><line class="lb" x1="580" y1="455.5" x2="616" y2="455.5"/><text class="t" x="580" y="453.5">Fluid factor reflectivity</text></g>
<g id="n-ins"><line class="lb" x1="588" y1="468.5" x2="625" y2="468.5"/><text class="t" x="588" y="466.5">Invariant NMO saturation</text></g>
<g id="n-att"><line class="lb" x1="580" y1="480.5" x2="598" y2="480.5"/><text class="t" x="580" y="478.5">Attenuation</text></g>
<g id="n-ani"><line class="lb" x1="580" y1="494.5" x2="597" y2="494.5"/><text class="t" x="580" y="492.5">Anisotropy</text></g>
<g id="n-lh"><line class="lb" x1="580" y1="499.5" x2="612" y2="499.5"/><text class="t" x="580" y="497.5">Lateral heterogeneity</text></g>
<g id="n-tl"><line class="lb" x1="580" y1="505.5" x2="601" y2="505.5"/><text class="t" x="580" y="503.5">Thin layering</text></g>
<g id="n-ce"><line class="lb" x1="580" y1="510.5" x2="610" y2="510.5"/><text class="t" x="580" y="508.5">Conductivity effects</text></g>
<g id="n-itu"><line class="lb" x1="580" y1="516" x2="615" y2="516"/><text class="t" x="580" y="514">Interference/tuning</text></g>
<g id="n-gcs"><line class="lb" x1="604" y1="478.5" x2="680" y2="478.5"/><text class="t" x="604" y="472"><tspan>gas-charged sediments, amplitude loss because of</tspan><tspan x="604" dy="4.2">attenuation is too large to be ignored</tspan></text></g>
<g id="n-ira"><line class="lb" x1="604" y1="489" x2="702" y2="489"/><text class="t" x="604" y="482.5"><tspan>if reasonable attenuation models available, amplitude can be</tspan><tspan x="604" dy="4.2">corrected for effect of attenuation prior to AVO and III</tspan></text></g>
<g id="n-avoa"><line class="lb" x1="603" y1="493" x2="612" y2="493"/><text class="t" x="603" y="491.6">AVOA</text></g>
<g id="n-con"><line class="lb" x1="527" y1="527" x2="625" y2="527"/><text class="t" x="527" y="520.5"><tspan>Connolly (1999) derived the connected incidence reflection</tspan><tspan x="527" dy="4.2">coefficient</tspan></text></g>
<g id="n-psa"><line class="lb" x1="527" y1="539" x2="625" y2="539"/><text class="t" x="527" y="532.5"><tspan>Post-stack inversion algorithms can be applied to angle gathers</tspan><tspan x="527" dy="4.2">to derive EI models</tspan></text></g>
<g id="n-dd"><line class="lb" x1="537" y1="546.5" x2="556" y2="546.5"/><text class="t" x="537" y="544.5">Data Domain</text></g>
<g id="n-om"><line class="lb" x1="537" y1="555.5" x2="567" y2="555.5"/><text class="t" x="537" y="553.5">Optimization Method</text></g>
<g id="n-ofc"><line class="lb" x1="537" y1="564.5" x2="598" y2="564.5"/><text class="t" x="537" y="562.5">Objective function and a priori constraints</text></g>
<g id="n-otd"><line class="lb" x1="563" y1="544.5" x2="591" y2="544.5"/><text class="t" x="563" y="542.5">offset-time domain</text></g>
<g id="n-fht"><line class="lb" x1="597" y1="543.5" x2="635" y2="543.5"/><text class="t" x="597" y="541.5">Fourier-Hankel Transform</text></g>
<g id="n-tp"><line class="lb" x1="563" y1="550" x2="592" y2="550"/><text class="t" x="563" y="548">τ-p or angle domain</text></g>
<g id="n-l2"><line class="lb" x1="605" y1="560.5" x2="628" y2="560.5"/><text class="t" x="605" y="558.5">standard L2 norm</text></g>
<g id="n-lft"><line class="lb" x1="605" y1="566.5" x2="638" y2="566.5"/><text class="t" x="605" y="564.5">Low-frequency Trends</text></g>
</g>
<g id="nodes-wave">
<g id="n-swp"><line class="lp" x1="301" y1="250" x2="342" y2="250"/><text class="t" x="301" y="248">Seismic Wave Propagation</text></g>
<g id="n-ssh"><line class="lp" x1="246" y1="169.5" x2="293" y2="169.5"/><text class="t" x="246" y="167.5">Stress, Strain, and Hooke's Law</text></g>
<g id="n-twe"><line class="lp" x1="265" y1="209.5" x2="295" y2="209.5"/><text class="t" x="265" y="207.5">The Wave Equation</text></g>
<g id="n-sr"><line class="lp" x1="267" y1="269.5" x2="296" y2="269.5"/><text class="t" x="267" y="267.5">Seismic Responses</text></g>
<g id="n-ve"><line class="lp" x1="273" y1="330" x2="296" y2="330"/><text class="t" x="273" y="328">Viscoelasticity</text></g>
<g id="n-str"><line class="lp" x1="230" y1="155.5" x2="241" y2="155.5"/><text class="t" x="230" y="153.5">Stress</text></g>
<g id="n-hl"><line class="lp" x1="224" y1="167.5" x2="241" y2="167.5"/><text class="t" x="224" y="165.5">Hooke's law</text></g>
<g id="n-swv"><line class="lp" x1="203" y1="175.5" x2="241" y2="175.5"/><text class="t" x="203" y="173.5">Seismic Wave Velocities</text></g>
<g id="n-rp"><line class="lp" x1="182" y1="181.5" x2="241" y2="181.5"/><text class="t" x="182" y="179.5">Rock Physics: Fluid Substitution Model</text></g>
<g id="n-eom"><line class="lp" x1="211" y1="186.5" x2="241" y2="186.5"/><text class="t" x="211" y="184.5">Equation of Motion</text></g>
<g id="n-ns"><line class="lp" x1="203" y1="152.5" x2="224" y2="152.5"/><text class="t" x="203" y="150.5">normal stress</text></g>
<g id="n-shs"><line class="lp" x1="203" y1="157.5" x2="222" y2="157.5"/><text class="t" x="203" y="155.5">shear stress</text></g>
<g id="n-ect"><line class="lp" x1="178" y1="163.5" x2="216" y2="163.5"/><text class="t" x="178" y="161.5">elastic coefficient tensor</text></g>
<g id="n-lame"><line class="lp" x1="188" y1="169.5" x2="216" y2="169.5"/><text class="t" x="188" y="167.5">Lamé parameters</text></g>
<g id="n-bge"><line class="lp" x1="135" y1="181" x2="176" y2="181"/><text class="t" x="135" y="179">Biot Gassmann equations</text></g>
<g id="n-ass"><line class="lp" x1="110" y1="181" x2="128" y2="181"/><text class="t" x="110" y="179">assumptions</text></g>
<g id="n-wr"><line class="lp" x1="226" y1="193.5" x2="258" y2="193.5"/><text class="t" x="226" y="191.5">Wavefronts and Rays</text></g>
<g id="n-spw"><line class="lp" x1="205" y1="199.5" x2="258" y2="199.5"/><text class="t" x="205" y="197.5">Spherical Waves and Plane Waves</text></g>
<g id="n-wt"><line class="lp" x1="239" y1="214.5" x2="257" y2="214.5"/><text class="t" x="239" y="212.5">Wave Types</text></g>
<g id="n-pwr"><line class="lp" x1="202" y1="237.5" x2="258" y2="237.5"/><text class="t" x="202" y="235.5">Plane Wave Reflection at a Boundary</text></g>
<g id="n-fp"><line class="lp" x1="192" y1="192.5" x2="222" y2="192.5"/><text class="t" x="192" y="190.5">Fermat's principle</text></g>
<g id="n-gs"><line class="lp" x1="163" y1="198.5" x2="199" y2="198.5"/><text class="t" x="163" y="196.5">geometrical spreading</text></g>
<g id="n-ht"><line class="lp" x1="204" y1="214.5" x2="234" y2="214.5"/><text class="t" x="204" y="212.5">Helmholtz Theorem</text></g>
<g id="n-pw"><line class="lp" x1="185" y1="204" x2="198" y2="204"/><text class="t" x="185" y="202">P-waves</text></g>
<g id="n-sw"><line class="lp" x1="185" y1="213" x2="198" y2="213"/><text class="t" x="185" y="211">S-waves</text></g>
<g id="n-rl"><line class="lp" x1="133" y1="222.5" x2="196" y2="222.5"/><text class="t" x="133" y="220.5">Rayleigh and Love waves (surface waves)</text></g>
<g id="n-hw"><line class="lp" x1="182" y1="228" x2="198" y2="228"/><text class="t" x="182" y="226">Head Wave</text></g>
<g id="n-pol"><line class="lp" x1="165" y1="214.5" x2="180" y2="214.5"/><text class="t" x="165" y="212.5">polarized</text></g>
<g id="n-sh"><line class="lp" x1="146" y1="209.5" x2="160" y2="209.5"/><text class="t" x="146" y="207.5">SH waves</text></g>
<g id="n-sv"><line class="lp" x1="146" y1="216.5" x2="160" y2="216.5"/><text class="t" x="146" y="214.5">SV waves</text></g>
<g id="n-cr"><line class="lp" x1="146" y1="228" x2="176" y2="228"/><text class="t" x="146" y="226">critical refraction</text></g>
<g id="n-rtc"><line class="lp" x1="138" y1="240.5" x2="196" y2="240.5"/><text class="t" x="138" y="238.5">reflection and transmission coefficients</text></g>
<g id="n-ai"><line class="lp" x1="94" y1="234.5" x2="130" y2="234.5"/><text class="t" x="94" y="232.5">acoustic impedance (AI)</text></g>
<g id="n-lrc"><line class="lp" x1="85" y1="243.5" x2="132" y2="243.5"/><text class="t" x="85" y="241.5">linearized reflection coefficient</text></g>
<g id="n-2t"><line class="lp" x1="16" y1="240.5" x2="77" y2="240.5"/><text class="t" x="16" y="238.5">two term linearized reflection coefficients</text></g>
<g id="n-3t"><line class="lp" x1="12" y1="246.5" x2="78" y2="246.5"/><text class="t" x="12" y="244.5">three term linearized reflection coefficients</text></g>
<g id="n-srl"><line class="lp" x1="192" y1="266.5" x2="258" y2="266.5"/><text class="t" x="192" y="264.5">Seismic Response of a Layered Earth Model</text></g>
<g id="n-ssl"><line class="lp" x1="172" y1="296" x2="258" y2="296"/><text class="t" x="172" y="294">Seismogram Synthesis in Laterally Heterogeneous Media</text></g>
<g id="n-fas"><line class="lp" x1="203" y1="309.5" x2="262" y2="309.5"/><text class="t" x="203" y="307.5">Factors Affecting Seismic Amplitudes</text></g>
<g id="n-psm"><line class="lp" x1="155" y1="251.5" x2="186" y2="251.5"/><text class="t" x="155" y="249.5">Post Stack Modeling</text></g>
<g id="n-prm"><line class="lp" x1="158" y1="269.5" x2="186" y2="269.5"/><text class="t" x="158" y="267.5">Prestack Modeling</text></g>
<g id="n-conv"><line class="lp" x1="131" y1="250.5" x2="149" y2="250.5"/><text class="t" x="131" y="248.5">convolution</text></g>
<g id="n-rap"><line class="lp" x1="65" y1="258.5" x2="148" y2="258.5"/><text class="t" x="65" y="256.5">responses of all possible plane waves at different angles</text></g>
<g id="n-rcr"><line class="lp" x1="91" y1="263.5" x2="152" y2="263.5"/><text class="t" x="91" y="261.5">reflection coefficients of ray propagation</text></g>
<g id="n-rm"><line class="lp" x1="117" y1="269.5" x2="150" y2="269.5"/><text class="t" x="117" y="267.5">Reflectivity method</text></g>
<g id="n-nwm"><line class="lp" x1="99" y1="275.5" x2="153" y2="275.5"/><text class="t" x="99" y="273.5">Numerical wavefield modeling</text></g>
<g id="n-pws"><line class="lp" x1="61" y1="281" x2="149" y2="281"/><text class="t" x="61" y="279">plane waves summed to generate a point source response</text></g>
<g id="n-art"><line class="lp" x1="123" y1="287.5" x2="165" y2="287.5"/><text class="t" x="123" y="285.5">Asymptotic ray theory (ART)</text></g>
<g id="n-nm"><line class="lp" x1="136" y1="298.5" x2="165" y2="298.5"/><text class="t" x="136" y="296.5">Numerical methods</text></g>
<g id="n-fd"><line class="lp" x1="103" y1="292.5" x2="130" y2="292.5"/><text class="t" x="103" y="290.5">Finite differencing</text></g>
<g id="n-gdc"><line class="lp" x1="56" y1="298.5" x2="130" y2="298.5"/><text class="t" x="56" y="296.5">grid dispersion criterion and the stability criterion</text></g>
<g id="n-abc"><line class="lp" x1="85" y1="304.5" x2="130" y2="304.5"/><text class="t" x="85" y="302.5">absorbing boundary condition</text></g>
<g id="n-damp"><line class="lp" x1="253" y1="315.5" x2="266" y2="315.5"/><text class="t" x="253" y="313.5">Damping</text></g>
<g id="n-rel"><line class="lp" x1="251" y1="321.5" x2="267" y2="321.5"/><text class="t" x="251" y="319.5">Relaxation</text></g>
<g id="n-vea"><line class="lp" x1="234" y1="326.5" x2="268" y2="326.5"/><text class="t" x="234" y="324.5">Viscoelastic attenuation</text></g>
<g id="n-swe"><line class="lp" x1="209" y1="338" x2="266" y2="338"/><text class="t" x="209" y="336">seismic waves experience attenuation</text></g>
<g id="n-loss"><line class="lp" x1="106" y1="337" x2="205" y2="337"/><text class="t" x="106" y="330.5"><tspan>losses caused by spherical divergence, scattering, diffraction,</tspan><tspan x="106" dy="4.2">reflection, and transmission</tspan></text></g>
<g id="n-q"><line class="lp" x1="131" y1="343" x2="205" y2="343"/><text class="t" x="131" y="341">measure of attenuation called Q : quality factor</text></g>
</g>
<g id="nodes-poststack">
<g id="n-ipsd"><line class="lc" x1="308" y1="431.5" x2="355" y2="431.5"/><text class="t" x="308" y="429.5">Inversion of Post-Stack Data</text></g>
<g id="n-ped"><line class="lc" x1="248" y1="416" x2="300" y2="416"/><text class="t" x="248" y="414">Phase Estimation and Deconvolution</text></g>
<g id="n-we"><line class="lc" x1="270" y1="434" x2="299" y2="434"/><text class="t" x="270" y="432">Wavelet Estimation</text></g>
<g id="n-ie"><line class="lc" x1="268" y1="446" x2="302" y2="446"/><text class="t" x="268" y="444">Impedance Estimation</text></g>
<g id="n-zos"><line class="lc" x1="192" y1="409" x2="241" y2="409"/><text class="t" x="192" y="407">Zero offset synthetic seismogram</text></g>
<g id="n-inv"><line class="lc" x1="230" y1="415.5" x2="242" y2="415.5"/><text class="t" x="230" y="413.5">inverse</text></g>
<g id="n-med"><line class="lc" x1="193" y1="422" x2="240" y2="422"/><text class="t" x="193" y="420">minimum entropy deconvolution</text></g>
<g id="n-lit"><line class="lc" x1="235" y1="428" x2="265" y2="428"/><text class="t" x="235" y="426">Linear inverse theory</text></g>
<g id="n-pcr"><line class="lc" x1="170" y1="442" x2="245" y2="442"/><text class="t" x="170" y="435.8"><tspan>prior constraint of reflectivity and the wavelet in</tspan><tspan x="170" dy="4.2">the frequency domain</tspan></text></g>
<g id="n-iinv"><line class="lc" x1="222" y1="448" x2="255" y2="448"/><text class="t" x="222" y="446">impedance inversion</text></g>
<g id="n-rfl"><line class="lc" x1="188" y1="448" x2="203" y2="448"/><text class="t" x="188" y="446">reflection</text></g>
<g id="n-eri"><line class="lc" x1="188" y1="453.5" x2="248" y2="453.5"/><text class="t" x="188" y="451.5">Estimation of Reflectivity and Impedance</text></g>
</g>
<g id="center">
<ellipse cx="404" cy="328" rx="47" ry="6.5" fill="#fff" stroke="#a8a8a8" stroke-width="0.8"/>
<text class="ctr" x="404" y="330.1" text-anchor="middle">Seismic Inversion -  Sen</text>
</g>
</svg>
